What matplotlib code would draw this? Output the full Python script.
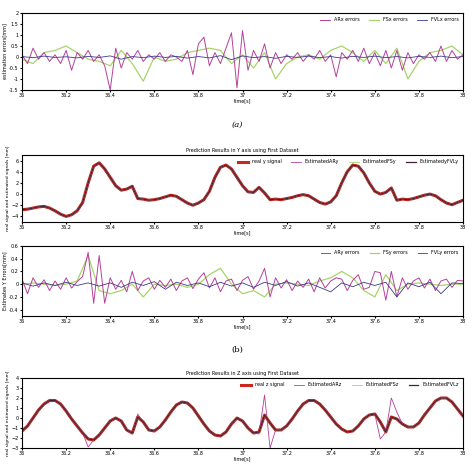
import numpy as np
import matplotlib
matplotlib.use("Agg")
import matplotlib.pyplot as plt

# ---- donnees ----
arx_err = [0.1, -0.3, 0.4, -0.1, 0.2, -0.2, 0.1, -0.3, 0.3, -0.6, 0.2, -0.1, 0.3, -0.2, 0.1, -0.4,
           -1.5, 0.4, -0.5, 0.2, -0.1, 0.3, -0.2, 0.1, -0.1, 0.2, -0.2, 0.1, 0.0, -0.2, 0.3, -0.8,
           0.6, 0.9, -0.4, 0.2, -0.3, 0.4, 1.1, -1.4, 1.2, -0.6, 0.3, -0.2, 0.6, -0.5, 0.2, -0.3,
           0.1, -0.1, 0.2, -0.2, 0.1, -0.1, 0.3, -0.2, 0.1, -0.9, 0.2, -0.1, 0.3, -0.2, 0.4, -0.3,
           0.2, -0.4, 0.3, -0.5, 0.3, -0.6, 0.2, -0.3, 0.1, -0.1, 0.2, -0.2, 0.5, -0.2, 0.3, -0.1, 0.1]
fsx_err = [-0.1, -0.3, 0.2, 0.3, 0.5, 0.2, -0.1, -0.2, -0.4, 0.3, -0.3, -1.1, 0.0, -0.2, -0.1,
           0.2, 0.3, 0.4, 0.3, -0.3, 0.1, -0.5, 0.2, -1.0, -0.3, 0.0, 0.1, -0.1, 0.3, 0.5, 0.2,
           -0.2, 0.3, -0.3, 0.4, -1.0, -0.2, 0.2, 0.3, 0.5, 0.1]
fvlx_err = [0.02, -0.03, 0.04, -0.02, 0.01, -0.04, 0.03, -0.02, 0.05, -0.1, 0.02, -0.03, 0.04,
            -0.02, 0.03, -0.05, 0.02, -0.04, 0.06, -0.12, 0.05, -0.03, 0.02, -0.06, 0.03, -0.02,
            0.04, -0.03, 0.02, -0.05, 0.03, -0.02, 0.04, -0.03, 0.02, -0.04, 0.03, -0.02, 0.04, -0.03, 0.02]

y_real = [-2.8, -2.7, -2.5, -2.3, -2.2, -2.5, -3.0, -3.6, -4.0, -3.7, -3.0, -1.5, 2.0, 5.0, 5.6,
          4.5, 3.0, 1.5, 0.7, 0.9, 1.4, -0.8, -0.9, -1.1, -1.0, -0.8, -0.5, -0.2, -0.4, -1.0,
          -1.6, -2.0, -1.6, -1.0, 0.5, 3.0, 4.8, 5.2, 4.5, 3.0, 1.5, 0.4, 0.3, 1.2, 0.2, -1.0,
          -0.9, -1.0, -0.8, -0.6, -0.3, -0.1, -0.3, -0.9, -1.5, -1.8, -1.4, -0.3, 2.0, 4.0, 5.2,
          5.0, 3.8, 2.0, 0.5, 0.0, 0.3, 1.1, -1.1, -0.9, -1.0, -0.8, -0.5, -0.2, 0.0, -0.3, -1.0,
          -1.6, -1.9, -1.5, -1.1]

ary_err = [0.08, -0.15, 0.1, -0.05, 0.07, -0.1, 0.05, -0.08, 0.1, -0.06, 0.04, 0.12, 0.5, -0.3,
           0.45, -0.3, 0.1, -0.08, 0.06, -0.12, 0.2, -0.1, 0.05, 0.1, -0.08, 0.06, -0.05, 0.08,
           -0.1, 0.05, 0.1, -0.07, 0.08, 0.18, -0.06, 0.1, -0.12, 0.05, 0.08, -0.1, 0.06, 0.12,
           -0.08, 0.05, 0.25, -0.2, 0.1, -0.06, 0.07, -0.1, 0.05, -0.05, 0.08, -0.12, 0.1, -0.06,
           0.05, 0.1, 0.08, -0.1, 0.06, 0.15, -0.08, -0.05, 0.2, 0.18, -0.25, 0.2, -0.2, 0.1,
           -0.08, 0.05, 0.1, -0.06, 0.08, -0.1, 0.05, 0.08, -0.05, 0.06, 0.05]
fsy_err = [0.0, 0.02, 0.0, -0.02, 0.0, 0.05, 0.45, -0.1, -0.15, -0.1, 0.0, -0.2, 0.0, -0.02, 0.0,
           -0.05, 0.0, 0.15, 0.25, 0.0, -0.15, -0.1, -0.2, 0.0, 0.02, 0.0, -0.02, 0.05, 0.1, 0.2,
           0.1, -0.1, -0.2, 0.15, -0.1, 0.0, 0.02, 0.0, -0.02, 0.0, 0.0]
fvly_err = [0.02, -0.03, 0.02, -0.02, 0.03, -0.02, 0.02, -0.03, 0.02, -0.05, 0.03, -0.02, 0.04,
            -0.08, 0.03, -0.02, 0.02, -0.04, 0.03, -0.03, 0.02, -0.05, 0.03, -0.02, 0.04, -0.03,
            0.02, -0.05, -0.12, 0.02, -0.04, 0.03, -0.02, 0.03, -0.2, 0.02, -0.04, 0.03, -0.15, 0.02, 0.01]

z_real = [-1.3, -0.8, 0.0, 0.8, 1.4, 1.75, 1.75, 1.4, 0.7, -0.1, -0.8, -1.5, -2.1, -2.2, -1.7,
          -1.0, -0.3, 0.0, -0.3, -1.2, -1.5, 0.1, -0.4, -1.2, -1.3, -0.9, -0.2, 0.6, 1.3, 1.6,
          1.5, 1.0, 0.2, -0.6, -1.3, -1.7, -1.8, -1.4, -0.6, 0.0, -0.3, -1.0, -1.5, -1.4, 0.3,
          -0.5, -1.2, -1.2, -0.8, -0.1, 0.7, 1.4, 1.75, 1.75, 1.4, 0.8, 0.1, -0.6, -1.1, -1.4,
          -1.3, -0.8, -0.1, 0.3, 0.4, -0.4, -1.4, 0.1, -0.1, -0.6, -0.9, -0.9, -0.5, 0.3, 1.0,
          1.7, 2.0, 2.0, 1.6, 0.9, 0.2]
# pics de l'estimation AR en z (indice: valeur)
arz_spikes = {12: -2.9, 21: 0.4, 43: -1.6, 44: 2.3, 45: -3.0, 65: -2.1, 67: 2.0, 68: 0.6}

MAG = '#b5409c'
GRN = '#a8d46a'
BLU = '#3a3a8c'
RED = '#c8281e'

fig = plt.figure(figsize=(4.74, 4.74), dpi=100)


def axe(top, bottom):
    ax = fig.add_axes([22 / 474, 1 - bottom / 474, 441 / 474, (bottom - top) / 474])
    ax.set_xlim(36, 38)
    ax.set_xticks(np.arange(36, 38.01, 0.2))
    ax.set_xticklabels(['36', '36.2', '36.4', '36.6', '36.8', '37', '37.2', '37.4', '37.6', '37.8', '38'])
    ax.tick_params(labelsize=3.5, length=1.5, pad=1)
    ax.set_xlabel('time[s]', fontsize=3.5, labelpad=0)
    return ax


def temps(v):
    return np.linspace(36, 38, len(v))


# (a) erreurs en x
ax = axe(13, 90)
ax.plot(temps(fsx_err), fsx_err, color=GRN, lw=0.9, label='FSx errors')
ax.plot(temps(arx_err), arx_err, color=MAG, lw=0.7, label='ARx errors')
ax.plot(temps(fvlx_err), fvlx_err, color=BLU, lw=0.6, label='FVLx errors')
ax.set_ylim(-1.5, 2)
ax.set_yticks([-1.5, -1, -0.5, 0, 0.5, 1, 1.5, 2])
ax.set_yticklabels(['-1.5', '-1', '-0.5', '0', '0.5', '1', '1.5', '2'])
ax.set_ylabel('estimation errors[mm]', fontsize=3.5, labelpad=1)
h, l = ax.get_legend_handles_labels()
ax.legend([h[1], h[0], h[2]], [l[1], l[0], l[2]], ncol=3, fontsize=3.5, frameon=False, loc='upper right')
fig.text(0.5, 1 - 125 / 474, '(a)', ha='center', va='center', fontsize=6, family='serif', style='italic')

# signal y
ax = axe(155, 222)
t = temps(y_real)
ax.plot(t, y_real, color=RED, lw=2.2, label='real y signal')
ax.plot(t, y_real, color=MAG, lw=0.6, label='EstimatedARy')
ax.plot(t, y_real, color=GRN, lw=0.6, label='EstimatedFSy')
ax.plot(t, y_real, color='#4a1f3a', lw=0.9, label='EstimatedyFVLy')
ax.set_ylim(-5, 7)
ax.set_yticks([-4, -2, 0, 2, 4, 6])
ax.set_ylabel('real signal and estimated signals [mm]', fontsize=3.2, labelpad=1)
ax.set_title('Prediction Results in Y axis using First Dataset', fontsize=3.5, pad=2)
ax.legend(ncol=4, fontsize=3.5, frameon=False, loc='upper right')

# (b) erreurs en y
ax = axe(246, 316)
ax.plot(temps(fsy_err), fsy_err, color=GRN, lw=0.9, label='FSy errors')
ax.plot(temps(ary_err), ary_err, color=MAG, lw=0.7, label='ARy errors')
ax.plot(temps(fvly_err), fvly_err, color=BLU, lw=0.6, label='FVLy errors')
ax.set_ylim(-0.5, 0.6)
ax.set_yticks([-0.4, -0.2, 0, 0.2, 0.4, 0.6])
ax.set_yticklabels(['-0.4', '-0.2', '0', '0.2', '0.4', '0.6'])
ax.set_ylabel('Estimates Y Errors[mm]', fontsize=3.5, labelpad=1)
h, l = ax.get_legend_handles_labels()
ax.legend([h[1], h[0], h[2]], [l[1], l[0], l[2]], ncol=3, fontsize=3.5, frameon=False, loc='upper right')
fig.text(0.5, 1 - 350 / 474, '(b)', ha='center', va='center', fontsize=6, family='serif')

# signal z
ax = axe(378, 448)
t = temps(z_real)
arz = list(z_real)
for i, v in arz_spikes.items():
    arz[i] = v
ax.plot(t, z_real, color=RED, lw=2.2, label='real z signal')
ax.plot(t, arz, color=MAG, lw=0.6, label='EstimatedARz')
ax.plot(t, z_real, color=GRN, lw=0.6, label='EstimatedFSz')
ax.plot(t, z_real, color='#4a1f3a', lw=0.9, label='EstimatedFVLz')
ax.set_ylim(-3, 4)
ax.set_yticks([-3, -2, -1, 0, 1, 2, 3, 4])
ax.set_ylabel('real signal and estimated signals [mm]', fontsize=3.2, labelpad=1)
ax.set_title('Prediction Results in Z axis using First Dataset', fontsize=3.5, pad=2)
ax.legend(ncol=4, fontsize=3.5, frameon=False, loc='upper right')

fig.savefig('out.png', dpi=100)
